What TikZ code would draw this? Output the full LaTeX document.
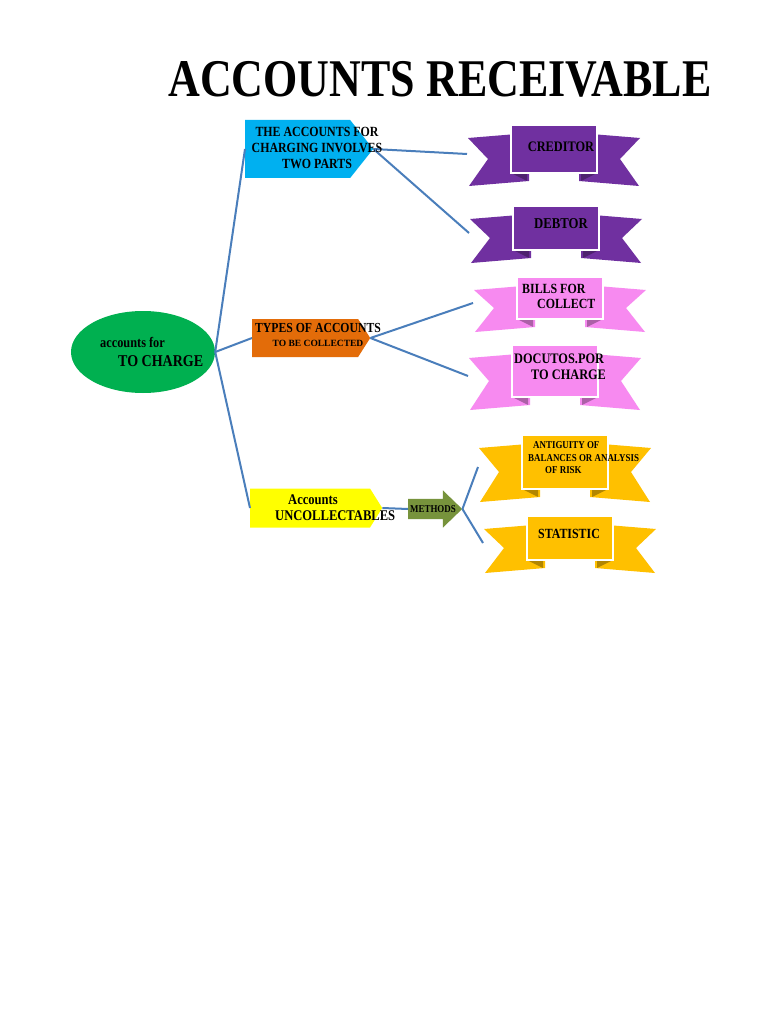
\documentclass[tikz,border=0pt]{standalone}
\usepackage{fontspec}
\setmainfont{Liberation Serif}[FakeStretch=0.85]
\newfontfamily\titlefont{Liberation Serif}[FakeStretch=0.83]
\newfontfamily\plainfont{Liberation Serif}
\usetikzlibrary{shapes.geometric, shapes.symbols, shapes.arrows}

\definecolor{rootgreen}{HTML}{00B050}
\definecolor{skyblue}{HTML}{00B0F0}
\definecolor{rustorange}{HTML}{E36C09}
\definecolor{lemon}{HTML}{FFFF00}
\definecolor{olive}{HTML}{77933C}
\definecolor{grape}{HTML}{7030A0}
\definecolor{orchid}{HTML}{F78AF0}
\definecolor{amber}{HTML}{FFC000}
\definecolor{linkblue}{HTML}{4A7EBB}

\tikzset{
  conn/.style={draw=linkblue, line width=2pt},
  arrowbox/.style={signal, signal to=east, signal from=nowhere, inner sep=0pt, anchor=west},
  txt/.style={inner sep=0pt, align=center},
  ribbon/.pic={
    \path[pic actions] (-25,{-#1+8}) -- (-86,{-#1+13}) -- (-66,10) -- (-85,{#1+13}) -- (-25,{#1+8}) -- cycle;
    \path[pic actions] (25,{-#1+8}) -- (86,{-#1+13}) -- (66,10) -- (85,{#1+13}) -- (25,{#1+8}) -- cycle;
    \fill[black, opacity=0.3] (-43,#1) -- (-27,#1) -- (-27,{#1+8}) -- cycle;
    \fill[black, opacity=0.3] (43,#1) -- (27,#1) -- (27,{#1+8}) -- cycle;
    \path[pic actions, draw=white, line width=1.2pt] (-43,-#1) rectangle (43,#1);
    \coordinate (-end) at (-87,5);
  }
}

\begin{document}
\begin{tikzpicture}[x=1pt, y=-1pt]
  \fill[white] (0,0) rectangle (768,1024);
  \useasboundingbox (0,0) rectangle (768,1024);

  \node[anchor=base, inner sep=0pt, font=\titlefont\bfseries\fontsize{53}{53}\selectfont] (title) at (440,97) {ACCOUNTS RECEIVABLE};

  % main shapes
  \node[ellipse, fill=rootgreen, minimum width=144, minimum height=82, inner sep=0pt] (root) at (143,352) {};
  \node[arrowbox, fill=skyblue, minimum width=128, minimum height=58, signal pointer angle=103] (parts) at (245,149) {};
  \node[arrowbox, fill=rustorange, minimum width=118, minimum height=38, signal pointer angle=115] (types) at (252,338) {};
  \node[arrowbox, fill=lemon, minimum width=132, minimum height=39, signal pointer angle=116] (uncoll) at (250,508) {};
  \node[single arrow, fill=olive, anchor=west, inner sep=0pt,
        single arrow head extend=8.5, single arrow tip angle=88] (methods) at (408,509) {\rule{43pt}{0pt}\rule{0pt}{20pt}};

  % ribbons
  \pic[fill=grape] (cred) at (554,149) {ribbon=24};
  \pic[fill=grape] (debt) at (556,228) {ribbon=22};
  \pic[fill=orchid] (bills) at (560,298) {ribbon=21};
  \pic[fill=orchid] (docs) at (555,371) {ribbon=26};
  \pic[fill=amber] (antig) at (565,462) {ribbon=27};
  \pic[fill=amber] (stat) at (570,538) {ribbon=22};

  % connectors
  \draw[conn] (root.east) -- (parts.west);
  \draw[conn] (root.east) -- (types.west);
  \draw[conn] (root.east) -- (uncoll.west);
  \draw[conn] (parts.east) -- (cred-end);
  \draw[conn] (parts.east) -- (debt-end);
  \draw[conn] (types.east) -- (bills-end);
  \draw[conn] (types.east) -- (docs-end);
  \draw[conn] (uncoll.east) -- (methods.west);
  \draw[conn] (methods.east) -- (antig-end);
  \draw[conn] (methods.east) -- (stat-end);

  % texts
  \node[txt, anchor=west, align=left, font=\bfseries\fontsize{14.5}{19}\selectfont] (rootT) at (100,352)
    {accounts for\\\hspace*{18pt}\fontsize{16.5}{19}\selectfont TO CHARGE};
  \node[txt, font=\bfseries\fontsize{14}{16}\selectfont] (partsT) at (317,148)
    {THE ACCOUNTS FOR\\CHARGING INVOLVES\\TWO PARTS};
  \node[txt, font=\bfseries\fontsize{13.8}{14}\selectfont] (typesT) at (318,335)
    {TYPES OF ACCOUNTS\\\plainfont\fontsize{9.5}{14}\selectfont TO BE COLLECTED};
  \node[txt, anchor=west, align=left, font=\bfseries\fontsize{14.8}{16}\selectfont] (uncollT) at (275,508)
    {\hspace*{13pt}Accounts\\UNCOLLECTABLES};
  \node[txt, font=\bfseries\fontsize{10.5}{12}\selectfont] (methodsT) at (433,509) {METHODS};
  \node[txt, font=\bfseries\fontsize{14.5}{16}\selectfont] (credT) at (561,147) {CREDITOR};
  \node[txt, font=\bfseries\fontsize{15}{16}\selectfont] (debtT) at (561,224) {DEBTOR};
  \node[txt, anchor=west, align=left, font=\bfseries\fontsize{14}{15}\selectfont] (billsT) at (522,296)
    {BILLS FOR\\\hspace*{15pt}COLLECT};
  \node[txt, anchor=west, align=left, font=\bfseries\fontsize{14.5}{16}\selectfont] (docsT) at (514,367)
    {DOCUTOS.POR\\\hspace*{17pt}TO CHARGE};
  \node[txt, anchor=west, align=left, font=\bfseries\fontsize{10.5}{12.5}\selectfont] (antigT) at (528,458)
    {\hspace*{5pt}ANTIGUITY OF\\BALANCES OR ANALYSIS\\\hspace*{17pt}OF RISK};
  \node[txt, font=\bfseries\fontsize{14}{16}\selectfont] (statT) at (569,534) {STATISTIC};
\end{tikzpicture}
\end{document}
